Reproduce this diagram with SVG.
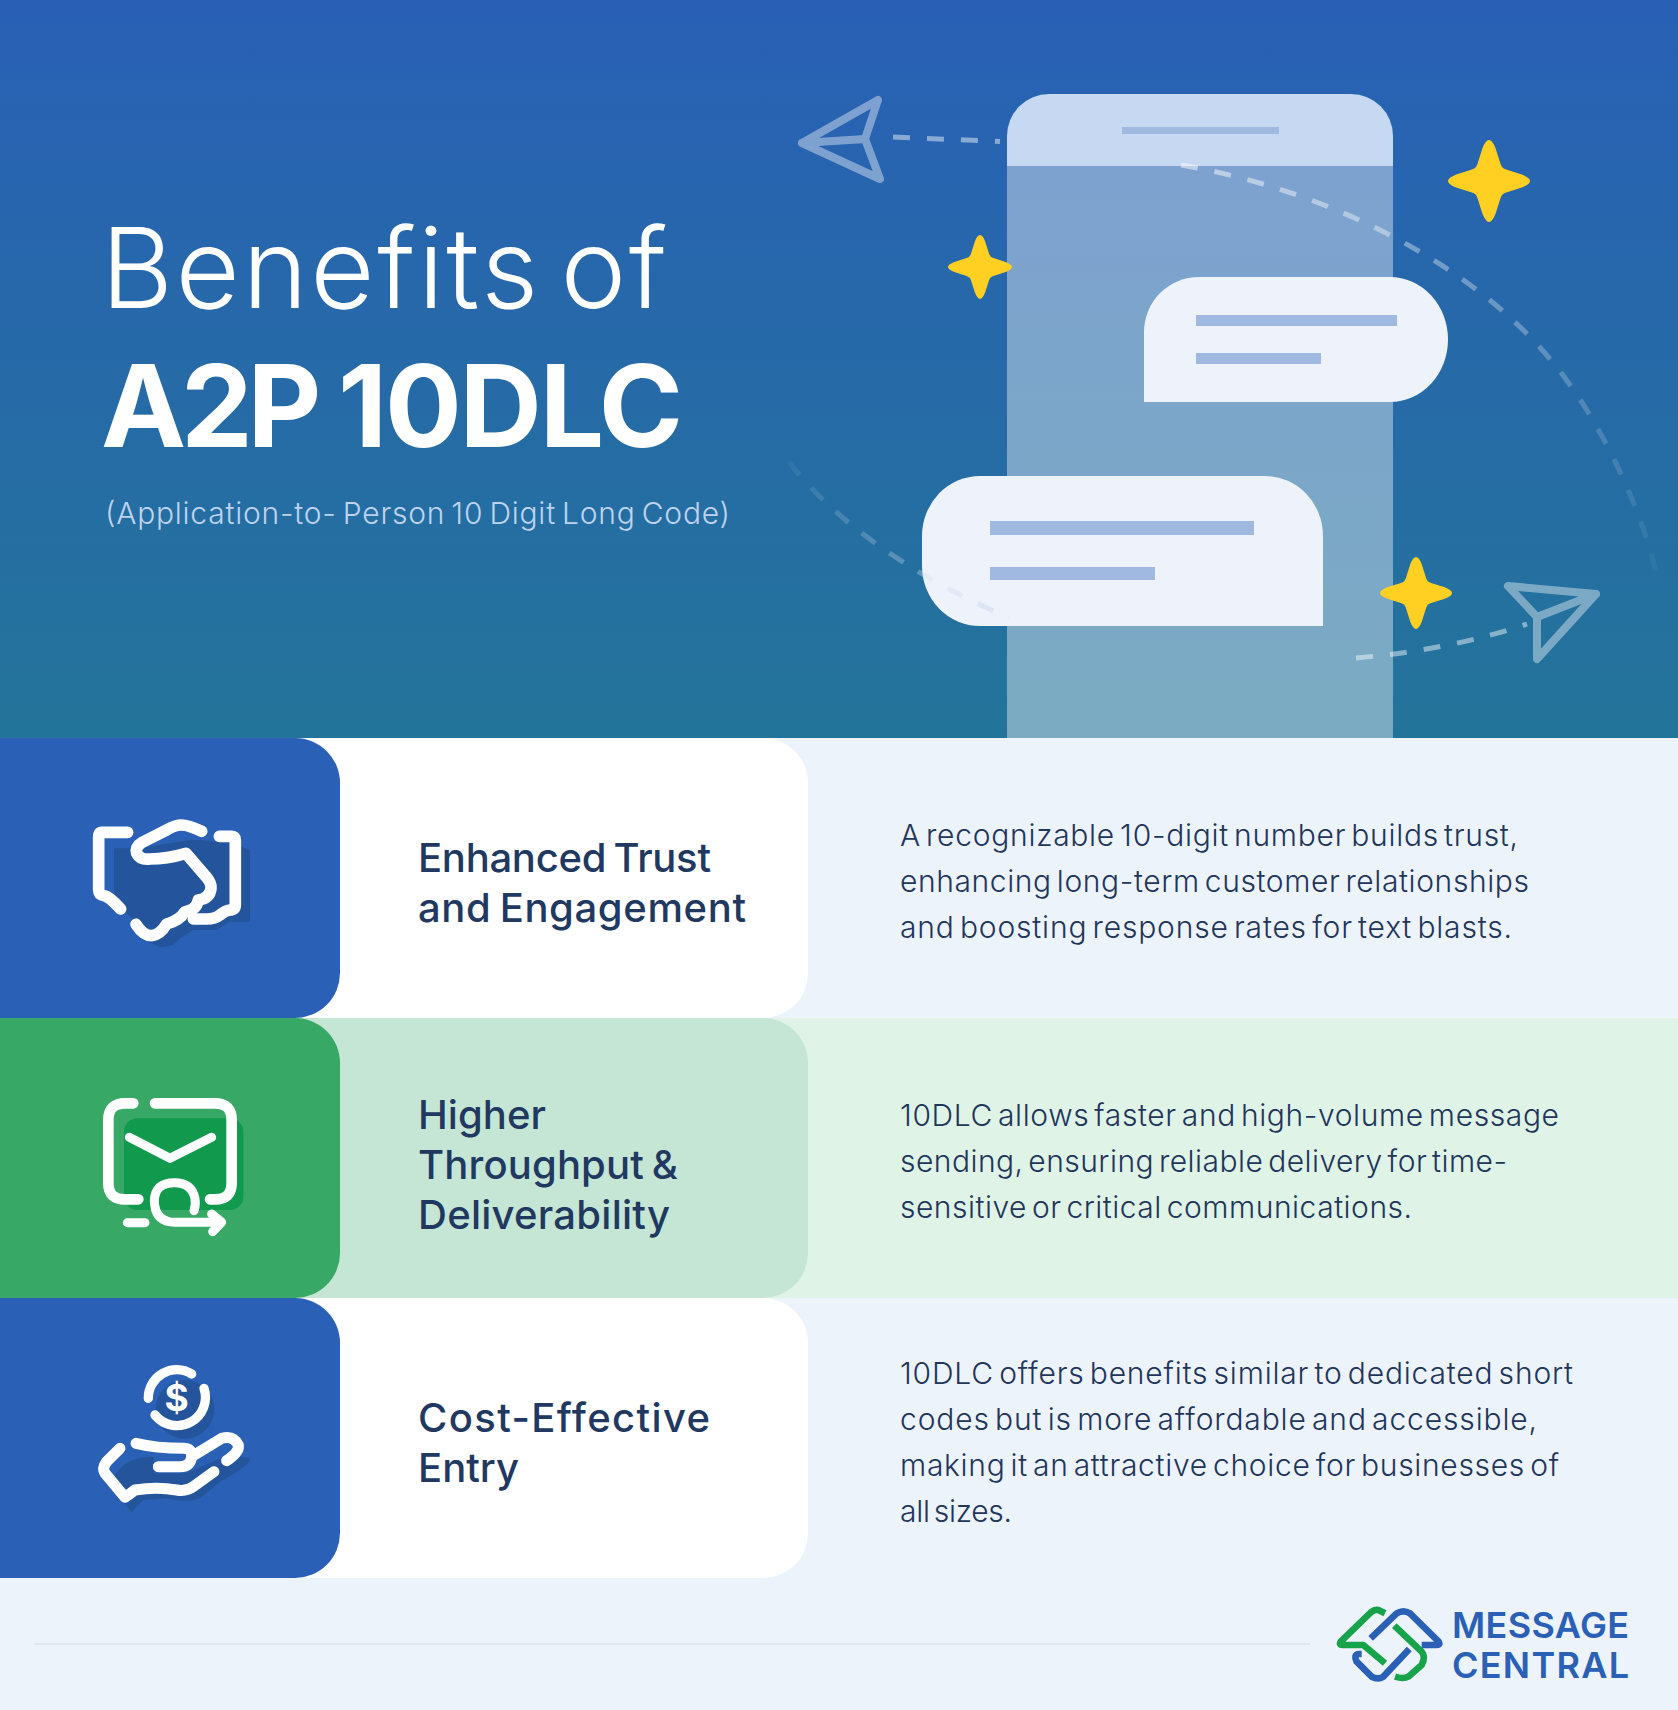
<svg xmlns="http://www.w3.org/2000/svg" width="1678" height="1710" viewBox="0 0 1678 1710">
<style>
.t{font-family:"Inter","Liberation Sans",sans-serif}
.h{font-size:40px;font-weight:500;fill:#213860;word-spacing:-3px}
.b{font-size:30px;font-weight:350;fill:#22355a;word-spacing:-4px}
.dash{fill:none;stroke-width:5;stroke-dasharray:17 17}
.plane{fill:none;stroke:#fff;stroke-opacity:.4;stroke-width:8;stroke-linejoin:round;stroke-linecap:round}
.bar{fill:#9fb9e0}
.bub{fill:#eef2fb}
.ic{fill:none;stroke:#fff;stroke-linecap:round;stroke-linejoin:round}
</style>
<defs>
<linearGradient id="sky" x1="0" y1="0" x2="0" y2="1"><stop offset="0" stop-color="#2960b6"/><stop offset="1" stop-color="#23749a"/></linearGradient>
<linearGradient id="fadeR" gradientUnits="userSpaceOnUse" x1="1181" y1="165" x2="1658" y2="585"><stop offset="0" stop-color="#fff" stop-opacity=".5"/><stop offset=".55" stop-color="#fff" stop-opacity=".3"/><stop offset="1" stop-color="#fff" stop-opacity=".03"/></linearGradient>
<linearGradient id="fadeL" gradientUnits="userSpaceOnUse" x1="1009" y1="618" x2="780" y2="450"><stop offset="0" stop-color="#c4d2e8" stop-opacity=".5"/><stop offset="1" stop-color="#fff" stop-opacity=".02"/></linearGradient>
<path id="star" d="M-.16,-.8Q0,-1.2 .16,-.8L.28,-.42Q.31,-.31 .42,-.28L.8,-.16Q1.2,0 .8,.16L.42,.28Q.31,.31 .28,.42L.16,.8Q0,1.2 -.16,.8L-.28,.42Q-.31,.31 -.42,.28L-.8,.16Q-1.2,0 -.8,-.16L-.42,-.28Q-.31,-.31 -.28,-.42Z" fill="#ffd021"/>
</defs>
<rect id="page" width="1678" height="1710" fill="#edf3fb"/>
<g id="hero">
<rect width="1678" height="738" fill="url(#sky)"/>
<rect x="1007" y="165" width="386" height="573" fill="#fff" fill-opacity=".4"/>
<path d="M1007,166V136A42,42 0 0 1 1049,94H1351A42,42 0 0 1 1393,136V166Z" fill="#c7d9f2"/>
<rect class="bar" x="1122" y="127" width="157" height="7"/>
<path class="dash" stroke="#fff" stroke-opacity=".45" d="M893,137L1000,141.5"/>
<path class="dash" stroke="url(#fadeR)" d="M1181,165C1330,190 1490,270 1570,385C1610,440 1650,530 1658,585"/>
<path class="dash" stroke="#fff" stroke-opacity=".45" d="M1356,658Q1450,650 1527,624"/>
<path class="plane" d="M802,143L878,100L865,139L880,179ZM802,143L865,139"/>
<path class="plane" d="M1508,586L1596,594L1537,659L1537,617ZM1537,617L1596,594"/>
<path class="bub" d="M1144,402V332A55,55 0 0 1 1199,277H1390A58,62.5 0 0 1 1390,402Z"/>
<rect class="bar" x="1196" y="315" width="201" height="11"/>
<rect class="bar" x="1196" y="353" width="125" height="11"/>
<path class="bub" d="M1323,626H980A58,60 0 0 1 922,566V536A58,60 0 0 1 980,476H1265A58,60 0 0 1 1323,536Z"/>
<rect class="bar" x="990" y="521" width="264" height="14"/>
<rect class="bar" x="990" y="567" width="165" height="13"/>
<path class="dash" stroke="url(#fadeL)" d="M789,462C830,515 900,570 1009,618"/>
<use href="#star" transform="translate(1489,181) scale(41)"/>
<use href="#star" transform="translate(980,267) scale(32)"/>
<use href="#star" transform="translate(1416,593) scale(36)"/>
<text class="t" x="101" y="308" font-size="111" font-weight="300" fill="#fff" textLength="566" lengthAdjust="spacing" word-spacing="-14">Benefits of</text>
<text class="t" x="101" y="447" font-size="114" font-weight="700" fill="#fff" textLength="582" lengthAdjust="spacing"><tspan letter-spacing="-3">A2P </tspan>10DLC</text>
<text class="t" x="105" y="524" font-size="30" font-weight="300" fill="#bfd3ef" textLength="625" lengthAdjust="spacing" word-spacing="-3">(Application-to- Person 10 Digit Long Code)</text>
</g>
<g id="row1">
<path d="M0,738H763A45,45 0 0 1 808,783V973A45,45 0 0 1 763,1018H0Z" fill="#fff"/>
<path d="M0,738H295A45,45 0 0 1 340,783V973A45,45 0 0 1 295,1018H0Z" fill="#2a60b5"/>
<text class="t h" x="418" y="872" textLength="293">Enhanced Trust</text>
<text class="t h" x="418" y="922" textLength="328">and Engagement</text>
<text class="t b" x="900" y="846" textLength="618">A recognizable 10-digit number builds trust,</text>
<text class="t b" x="900" y="892" textLength="629">enhancing long-term customer relationships</text>
<text class="t b" x="900" y="938" textLength="612">and boosting response rates for text blasts.</text>
<g id="icon1" transform="translate(60,790) scale(.3333)">
<path fill="#24549b" d="M162,175H235L390,150Q420,148 465,155H515L570,182V395H510L470,420H400L360,445Q340,475 300,470L262,455L215,385L190,360L162,330Z"/>
<g class="ic" stroke-width="35">
<path d="M203,127H125Q116,127 116,140V300Q116,315 135,318Q150,322 182,357"/>
<path d="M478,139H515Q526,139 526,150V345Q526,360 510,360Q495,362 480,375Q465,387 440,387H400"/>
<path d="M425,124Q385,105 365,105Q345,105 320,120L245,158Q225,170 230,190Q240,210 270,207Q320,207 378,190L440,262Q455,280 453,295Q450,325 415,330Q410,360 375,365Q360,390 320,402Q300,435 275,437Q250,437 228,403"/>
</g></g>
</g>
<g id="row2">
<rect y="1018" width="1678" height="280" fill="#dff3e6"/>
<path d="M0,1018H763A45,45 0 0 1 808,1063V1253A45,45 0 0 1 763,1298H0Z" fill="#c5e6d5"/>
<path d="M0,1018H295A45,45 0 0 1 340,1063V1253A45,45 0 0 1 295,1298H0Z" fill="#38a866"/>
<text class="t h" x="418" y="1129" textLength="128">Higher</text>
<text class="t h" x="418" y="1179" textLength="260">Throughput &amp;</text>
<text class="t h" x="418" y="1229" textLength="252">Deliverability</text>
<text class="t b" x="900" y="1126" textLength="659">10DLC allows faster and high-volume message</text>
<text class="t b" x="900" y="1172" textLength="607">sending, ensuring reliable delivery for time-</text>
<text class="t b" x="900" y="1218" textLength="512">sensitive or critical communications.</text>
<g id="icon2" transform="translate(70,1080) scale(.3333)">
<rect x="162" y="115" width="358" height="275" rx="40" fill="#119a4d"/>
<g class="ic" stroke-width="32">
<path d="M190,70H165Q115,70 115,120V310Q115,358 165,358H205"/>
<path d="M255,70H435Q485,70 485,120V310Q485,358 435,358H420"/>
<path stroke-width="27" d="M178,172L300,235L425,172"/>
<path stroke-width="27" d="M372,392Q378,375 375,355Q365,308 314,308Q253,308 253,365Q256,427 315,427H455M425,402L455,427L428,455M172,428H225"/>
</g></g>
</g>
<g id="row3">
<path d="M0,1298H763A45,45 0 0 1 808,1343V1533A45,45 0 0 1 763,1578H0Z" fill="#fff"/>
<path d="M0,1298H295A45,45 0 0 1 340,1343V1533A45,45 0 0 1 295,1578H0Z" fill="#2a60b5"/>
<text class="t h" x="418" y="1432" textLength="292">Cost-Effective</text>
<text class="t h" x="418" y="1482" textLength="101">Entry</text>
<text class="t b" x="900" y="1384" textLength="673">10DLC offers benefits similar to dedicated short</text>
<text class="t b" x="900" y="1430" textLength="637">codes but is more affordable and accessible,</text>
<text class="t b" x="900" y="1476" textLength="659">making it an attractive choice for businesses of</text>
<text class="t b" x="900" y="1522" textLength="112">all sizes.</text>
<g id="icon3" transform="translate(70,1350) scale(.3333)">
<circle cx="345" cy="178" r="88" fill="#24549b"/>
<path fill="#24549b" d="M130,385Q160,320 250,320V370H350L440,330L510,320L540,325Q545,345 450,395L390,445Q350,460 290,445L220,450L185,487L130,420Z"/>
<g class="ic" stroke-width="33">
<path stroke-width="28" d="M235,145A85,85 0 0 1 365,72"/>
<path stroke-width="28" d="M402,115A85,85 0 0 1 255,195"/>
<path d="M198,280Q260,295 340,295Q365,295 365,315Q365,350 330,350H265"/>
<path d="M365,320L455,265Q490,255 505,285Q510,305 470,332"/>
<path d="M432,365L370,410Q350,425 320,420Q260,410 195,420L165,442L105,370Q95,355 110,335L150,295"/>
</g></g>
<text class="t" x="176.5" y="1411" font-size="37" font-weight="700" fill="#fff" text-anchor="middle">$</text>
</g>
<g id="footer">
<line x1="35" y1="1644" x2="1310" y2="1644" stroke="#e0e7f1" stroke-width="2"/>
<g fill="none" stroke-linejoin="round" transform="translate(1300,1580) scale(.3333)">
<g stroke-width="20">
<path stroke="#17a34a" d="M255,100L235,90Q225,88 215,95L122,185Q116,195 128,195H190L255,250"/>
<path stroke="#17a34a" d="M283,137L365,215Q378,230 365,255L325,290Q310,298 285,290"/>
<path stroke="#2a60b5" d="M212,175L290,100Q310,88 330,100L416,185Q422,195 410,195H365"/>
<path stroke="#2a60b5" d="M185,222H175Q160,225 170,245L215,290Q235,300 250,290L328,207"/>
</g></g>
<text class="t" x="1452" y="1638" font-size="36" font-weight="600" fill="#2a60b5" textLength="177" lengthAdjust="spacing">MESSAGE</text>
<text class="t" x="1452" y="1678" font-size="36" font-weight="600" fill="#2a60b5" textLength="177" lengthAdjust="spacing">CENTRAL</text>
</g>
</svg>
